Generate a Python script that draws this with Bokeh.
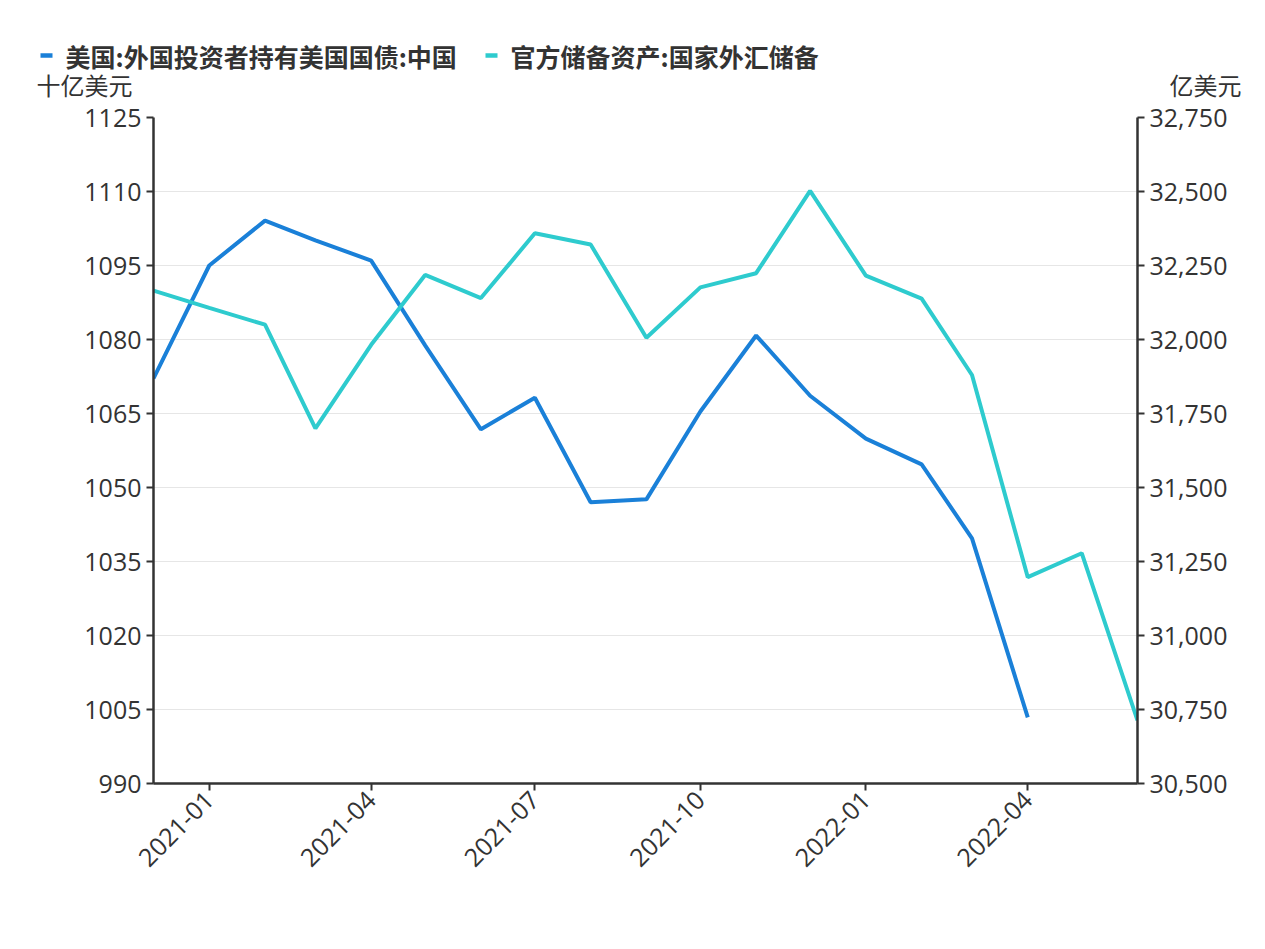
import pandas as pd
from bokeh.plotting import figure
from bokeh.layouts import column
from bokeh.models import (Range1d, LinearAxis, FixedTicker, DatetimeTickFormatter,
                          NumeralTickFormatter)
from bokeh.core.properties import value
from bokeh.embed import file_html
from bokeh.resources import INLINE
from math import pi

# 美国:外国投资者持有美国国债:中国 (十亿美元), 2020-12 .. 2022-04
treasury = [1072.1, 1095.0, 1104.1, 1100.1, 1096.0, 1078.8, 1061.8, 1068.2, 1047.0,
            1047.6, 1065.4, 1080.8, 1068.6, 1059.9, 1054.7, 1039.7, 1003.4]
# 官方储备资产:国家外汇储备 (亿美元), 2020-12 .. 2022-06
reserves = [32165, 32107, 32050, 31700, 31982, 32218, 32140, 32359, 32321, 32006,
            32176, 32224, 32502, 32216, 32138, 31880, 31197, 31278, 30713]

dates_t = pd.date_range("2020-12-01", periods=len(treasury), freq="MS")
dates_r = pd.date_range("2020-12-01", periods=len(reserves), freq="MS")

left_ticks = list(range(990, 1126, 15))
right_ticks = list(range(30500, 32751, 250))
x_ticks = ["2021-01-01", "2021-04-01", "2021-07-01", "2021-10-01", "2022-01-01", "2022-04-01"]

name_t = "美国:外国投资者持有美国国债:中国"
name_r = "官方储备资产:国家外汇储备"
unit_left = "十亿美元"
unit_right = "亿美元"

blue = "#1a80d8"
cyan = "#2ecbce"
ink = "#333333"
tick_font = "Open Sans"
cjk = "Noto Sans CJK SC"

W = 1250
HEAD = 102
TOP = 117 - HEAD
BOTTOM = 150

# header strip: legend and unit labels, in pixel coordinates
head = figure(width=W, height=HEAD, x_range=Range1d(0, W), y_range=Range1d(HEAD, 0),
              x_axis_location=None, y_axis_location=None,
              output_backend="svg", toolbar_location=None, frame_align=False,
              min_border_left=0, min_border_right=0, min_border_top=0, min_border_bottom=0)
head.grid.visible = False
head.outline_line_color = None
head.segment(x0=[40, 485], y0=[55, 55], x1=[52, 497], y1=[55, 55],
             line_color=[blue, cyan], line_width=4.5)
head.text(x=[65, 510], y=[55, 55], text=[name_t, name_r], text_font=value(cjk),
          text_font_style="bold", text_font_size="25px", text_color=ink,
          text_baseline="middle")
head.text(x=[36], y=[84], text=[unit_left], text_font=value(cjk),
          text_font_size="24px", text_color=ink, text_baseline="middle")
head.text(x=[1241], y=[84], text=[unit_right], text_font=value(cjk),
          text_font_size="24px", text_color=ink, text_baseline="middle", text_align="right")

p = figure(width=W, height=TOP + 666 + BOTTOM, x_axis_type="datetime",
           x_range=Range1d(pd.Timestamp("2020-12-01"), pd.Timestamp("2022-06-01")),
           y_range=Range1d(990, 1125),
           output_backend="svg", toolbar_location=None, frame_align=False,
           min_border_left=153, min_border_right=W - 1137, min_border_top=TOP,
           min_border_bottom=BOTTOM)
p.extra_y_ranges = {"res": Range1d(30500, 32750)}
p.outline_line_color = None
p.xgrid.visible = False
p.ygrid.grid_line_color = "#e6e6e6"
p.ygrid.grid_line_width = 1

p.line(dates_t, treasury, line_color=blue, line_width=4)
p.line(dates_r, reserves, line_color=cyan, line_width=4, y_range_name="res")

right = LinearAxis(y_range_name="res")
p.add_layout(right, "right")

for ax in [p.yaxis[0], right, p.xaxis[0]]:
    ax.axis_line_color = ink
    ax.axis_line_width = 2.5
    ax.major_tick_line_color = ink
    ax.major_tick_line_width = 2
    ax.major_tick_in = 0
    ax.major_tick_out = 7
    ax.minor_tick_line_color = None
    ax.major_label_text_font = tick_font
    ax.major_label_text_font_size = "25px"
    ax.major_label_text_color = ink

p.yaxis[0].ticker = FixedTicker(ticks=left_ticks)
right.ticker = FixedTicker(ticks=right_ticks)
right.formatter = NumeralTickFormatter(format="0,0")

p.xaxis[0].ticker = FixedTicker(ticks=[pd.Timestamp(d).value // 10**6 for d in x_ticks])
fmt = "%Y-%m"
p.xaxis[0].formatter = DatetimeTickFormatter(years=fmt, months=fmt, days=fmt, hours=fmt,
                                             minutes=fmt, seconds=fmt, milliseconds=fmt)
p.xaxis[0].major_label_orientation = pi / 4

open("out.html", "w").write(file_html(column(head, p, spacing=0), INLINE))
